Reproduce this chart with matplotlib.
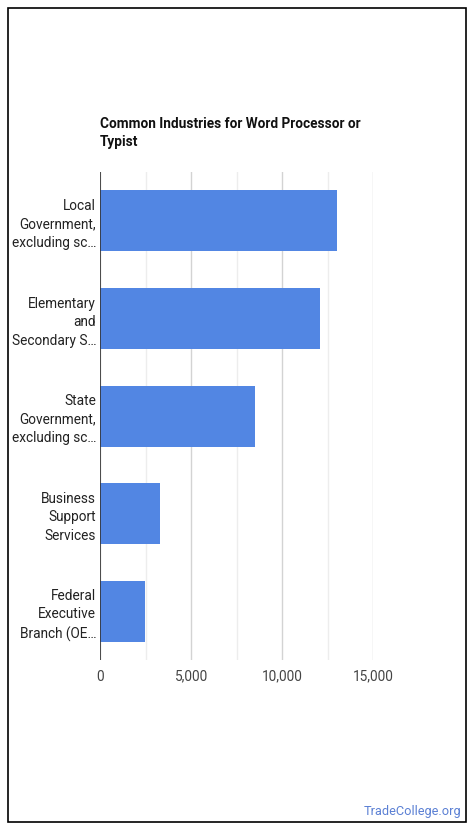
import matplotlib.pyplot as plt
from matplotlib.patches import Rectangle
from matplotlib.ticker import FuncFormatter, MultipleLocator

# Data
industries = [
    'Local\nGovernment,\nexcluding sc…',
    'Elementary\nand\nSecondary S…',
    'State\nGovernment,\nexcluding sc…',
    'Business\nSupport\nServices',
    'Federal\nExecutive\nBranch (OE…',
]
employment = [13020, 12070, 8520, 3300, 2470]
x_ticks = [0, 5000, 10000, 15000]

plt.rcParams['font.family'] = ['Roboto', 'DejaVu Sans']

W, H = 476, 833
fig = plt.figure(figsize=(W / 100, H / 100), dpi=100)

# outer frame
fig.patches.append(Rectangle((8 / W, 1 - 822 / H), 458 / W, 814 / H,
                             transform=fig.transFigure, fill=False,
                             edgecolor='black', linewidth=1.2))

ax = fig.add_axes([100.3 / W, 1 - 660 / H, 273 / W, 488 / H])
y = list(range(len(industries)))
ax.barh(y, employment, height=0.625, color='#5286e3', zorder=3)
ax.set_ylim(len(industries) - 0.5, -0.5)
ax.set_xlim(0, 15000)

ax.set_xticks(x_ticks)
ax.xaxis.set_minor_locator(MultipleLocator(2500))
ax.xaxis.set_major_formatter(FuncFormatter(lambda v, p: f'{int(v):,}'))
ax.grid(axis='x', which='major', color='#d3d3d3', linewidth=1, zorder=0)
ax.grid(axis='x', which='minor', color='#ededed', linewidth=1, zorder=0)
ax.axvline(0, color='#333333', linewidth=1.2, zorder=4)

ax.set_yticks(y)
ax.set_yticklabels(industries, fontsize=9.8, color='#222222', linespacing=1.4)
ax.tick_params(axis='y', length=0, pad=3)
ax.tick_params(axis='x', which='both', length=0, pad=7, labelsize=9.8, labelcolor='#444444')
for s in ax.spines.values():
    s.set_visible(False)

fig.text(100 / W, 1 - 133 / H, 'Common Industries for Word Processor or\nTypist',
         fontsize=9.8, fontweight='bold', color='#111111', ha='left', va='center',
         linespacing=1.4)
fig.text(461 / W, 1 - 811 / H, 'TradeCollege.org', fontsize=9.2, color='#5b80d4',
         ha='right', va='center')

fig.savefig('out.png', dpi=100)
